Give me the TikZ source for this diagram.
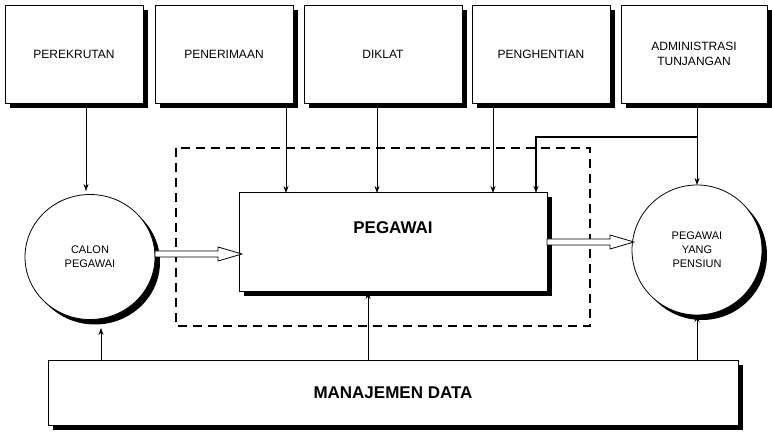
\documentclass[tikz,border=0pt]{standalone}
\usepackage{fontspec}
\setmainfont{Liberation Sans}
\usetikzlibrary{arrows.meta,shadows,shapes.geometric}
\begin{document}
\begin{tikzpicture}[x=1pt,y=-1pt,
  sh/.style={draw=black,line width=0.8pt,fill=white,drop shadow={shadow xshift=5pt,shadow yshift=-5pt,fill=black,opacity=1}},
  topbox/.style={sh,rectangle,minimum height=98pt,align=center,font=\fontsize{12}{15}\selectfont},
  circ/.style={sh,ellipse,align=center,font=\fontsize{11}{14}\selectfont,inner sep=0pt},
  ar/.style={-{Stealth[length=7pt,width=5pt]},line width=0.8pt},
  hollow/.style={draw,fill=white,line width=0.8pt}]
\useasboundingbox (0,0) rectangle (772,438);
\node[topbox,minimum width=138pt] (a) at (74,54) {PEREKRUTAN};
\node[topbox,minimum width=138pt] (b) at (224,54) {PENERIMAAN};
\node[topbox,minimum width=158pt] (c) at (383,54) {DIKLAT};
\node[topbox,minimum width=138pt] (d) at (541,54) {PENGHENTIAN};
\node[topbox,minimum width=146pt] (e) at (694,54) {ADMINISTRASI\\TUNJANGAN};
\draw[line width=2pt,dash pattern=on 9pt off 6pt] (176,148) rectangle (590,326);
\node[sh,minimum width=308pt,minimum height=99pt] (p) at (393,242) {};
\node[font=\fontsize{17}{20}\selectfont\bfseries] (pt) at (393,228) {PEGAWAI};
\node[circ,minimum width=130pt,minimum height=125pt] (cal) at (90,257) {CALON\\PEGAWAI};
\node[circ,minimum width=130pt,minimum height=130pt] (pen) at (697,250) {PEGAWAI\\YANG\\PENSIUN};
\node[sh,minimum width=690pt,minimum height=65pt,font=\fontsize{17}{20}\selectfont\bfseries] (m) at (393,393) {MANAJEMEN DATA};
\draw[ar] (86,103) -- (86,191);
\draw[ar] (286,103) -- (286,193);
\draw[ar] (377,103) -- (377,193);
\draw[ar] (493,103) -- (493,193);
\draw[ar] (697,103) -- (697,185);
\coordinate (j) at (697,137);
\draw[ar,line width=1.6pt] (j) -- (536,137) -- (536,193);
\draw[ar] (101,360) -- (101,328);
\draw[ar] (368,360) -- (368,292);
\draw[ar] (697,360) -- (697,315);
\draw[hollow] (155,251) -- (218,251) -- (218,247) -- (242,254) -- (218,261) -- (218,257) -- (155,257) -- cycle;
\draw[hollow] (547,239) -- (610,239) -- (610,235) -- (634,242) -- (610,249) -- (610,245) -- (547,245) -- cycle;
\end{tikzpicture}
\end{document}
